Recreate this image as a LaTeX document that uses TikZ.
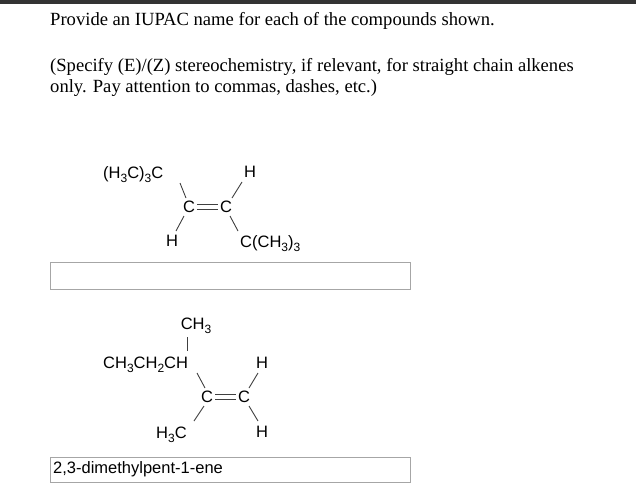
\documentclass[tikz,border=0pt]{standalone}
\usepackage{fontspec}
\setmainfont{Liberation Serif}
\newfontfamily\chem{Liberation Sans}
\newcommand{\sbs}[1]{\raisebox{-0.25em}{\fontsize{12}{12}\selectfont #1}}
\begin{document}
\begin{tikzpicture}[x=1pt,y=-1pt,
  para/.style={anchor=base west,inner sep=0,font=\fontsize{18.6}{21}\selectfont},
  lbl/.style={inner sep=0,font=\chem\fontsize{16.5}{18}\selectfont},
  bond/.style={draw=black!75,line width=0.9pt},
  answer/.style={draw=black!35,line width=0.8pt,fill=white}]
\useasboundingbox (0,0) rectangle (636,503);
\fill[black!80] (0,0) rectangle (636,4);
\node[para] (t1) at (50,26) {Provide an IUPAC name for each of the compounds shown.};
\node[para] (t2) at (50,71) {(Specify (E)/(Z) stereochemistry, if relevant, for straight chain alkenes};
\node[para] (t3) at (50,92) {only. Pay attention to commas, dashes, etc.)};
% molecule 1
\node[lbl,anchor=base west] (a1) at (103,178) {(H\sbs{3}C)\sbs{3}C};
\node[lbl] (a2) at (250,172) {H};
\node[lbl] (ca) at (189,207) {C};
\node[lbl] (cb) at (226,207) {C};
\node[lbl] (a4) at (172,241) {H};
\node[lbl,anchor=base west] (a5) at (240,247) {C(CH\sbs{3})\sbs{3}};
\draw[bond] ([yshift=-2.5]ca.east)++(2,0) -- ([yshift=-2.5,xshift=-2]cb.west);
\draw[bond] ([yshift=2.5]ca.east)++(2,0) -- ([yshift=2.5,xshift=-2]cb.west);
\coordinate (b1s) at (180,183); \coordinate (b1e) at (186,198);
\coordinate (b2s) at (184,216); \coordinate (b2e) at (176,231);
\coordinate (b3s) at (232,198); \coordinate (b3e) at (242,182);
\coordinate (b4s) at (230,216); \coordinate (b4e) at (238,231);
\draw[bond] (b1s)--(b1e); \draw[bond] (b2s)--(b2e);
\draw[bond] (b3s)--(b3e); \draw[bond] (b4s)--(b4e);
\node[answer,minimum width=360,minimum height=27,anchor=north west] (box1) at (50,262) {};
% molecule 2
\node[lbl] (m1) at (196,326) {CH\sbs{3}};
\node[lbl,anchor=base west] (m2) at (103,368) {CH\sbs{3}CH\sbs{2}CH};
\node[lbl] (m3) at (262,363) {H};
\node[lbl] (cc) at (207,397) {C};
\node[lbl] (cd) at (244,397) {C};
\draw[bond] ([yshift=-2.5]cc.east)++(2,0) -- ([yshift=-2.5,xshift=-2]cd.west);
\draw[bond] ([yshift=2.5]cc.east)++(2,0) -- ([yshift=2.5,xshift=-2]cd.west);
\node[lbl,anchor=base west] (m5) at (156,438) {H\sbs{3}C};
\node[lbl] (m6) at (262,432) {H};
\coordinate (c0s) at (187,337); \coordinate (c0e) at (187,351);
\coordinate (c1s) at (197,373); \coordinate (c1e) at (205,388);
\coordinate (c2s) at (249,388); \coordinate (c2e) at (258,373);
\coordinate (c3s) at (204,406); \coordinate (c3e) at (194,421);
\coordinate (c4s) at (249,406); \coordinate (c4e) at (258,421);
\draw[bond] (c0s)--(c0e); \draw[bond] (c1s)--(c1e); \draw[bond] (c2s)--(c2e);
\draw[bond] (c3s)--(c3e); \draw[bond] (c4s)--(c4e);
\node[answer,minimum width=360,minimum height=25,anchor=north west] (box2) at (50,457) {};
\node[lbl,anchor=west] (ans) at (53,469.5) {2,3-dimethylpent-1-ene};
\end{tikzpicture}
\end{document}
